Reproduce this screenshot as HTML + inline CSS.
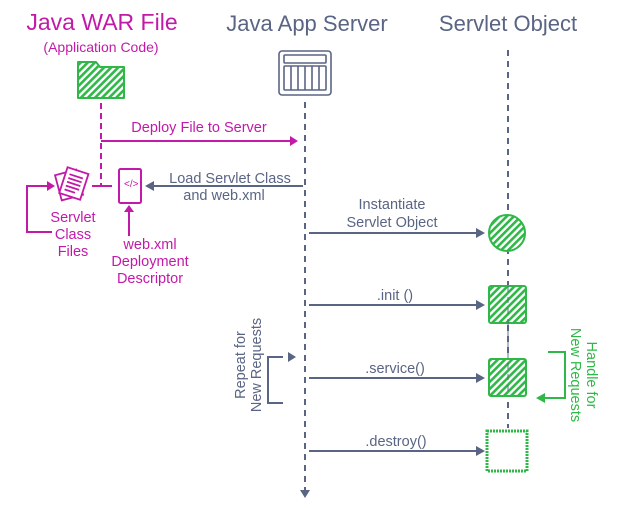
<!DOCTYPE html>
<html><head><style>
html,body{margin:0;padding:0;background:#fff;}
svg{display:block;font-family:"Liberation Sans",sans-serif;}
</style></head><body>
<svg width="618" height="508" viewBox="0 0 618 508" xmlns="http://www.w3.org/2000/svg">
<defs>
<pattern id="h" patternUnits="userSpaceOnUse" width="5" height="5" patternTransform="rotate(45)">
<rect width="5" height="5" fill="#fff"/><rect width="2.6" height="5" fill="#2fb847"/>
</pattern>
</defs>
<!-- titles -->
<text x="102" y="30" font-size="23" fill="#c21aa8" text-anchor="middle">Java WAR File</text>
<text x="101" y="52" font-size="14" fill="#c21aa8" text-anchor="middle">(Application Code)</text>
<text x="307" y="31" font-size="22" fill="#5a6584" text-anchor="middle">Java App Server</text>
<text x="508" y="31" font-size="22" fill="#5a6584" text-anchor="middle">Servlet Object</text>

<!-- folder -->
<path d="M78,62 h18 l4,5 h24 v31 h-46 z" fill="url(#h)" stroke="#2fb847" stroke-width="2" stroke-linejoin="round"/>

<!-- server icon -->
<g stroke="#5a6584" fill="none" stroke-width="1.6">
<rect x="279" y="51" width="52" height="44" rx="3"/>
<rect x="284" y="55" width="42" height="8" rx="1"/>
<rect x="284" y="66" width="42" height="24" rx="1"/>
<line x1="291" y1="66" x2="291" y2="90"/><line x1="298" y1="66" x2="298" y2="90"/><line x1="305" y1="66" x2="305" y2="90"/><line x1="312" y1="66" x2="312" y2="90"/><line x1="319" y1="66" x2="319" y2="90"/>
</g>

<!-- lifelines -->
<line x1="305" y1="102" x2="305" y2="490" stroke="#5a6584" stroke-width="2" stroke-dasharray="6,5"/>
<path d="M300,490 L310,490 L305,498 z" fill="#5a6584"/>
<line x1="508" y1="50" x2="508" y2="428" stroke="#5a6584" stroke-width="2" stroke-dasharray="6,5"/>

<!-- magenta deploy -->
<g stroke="#c21aa8" stroke-width="2" fill="none">
<line x1="101" y1="103" x2="101" y2="186" stroke-dasharray="6,4"/>
<line x1="101" y1="141" x2="292" y2="141"/>
<line x1="92" y1="186" x2="112" y2="186"/>
<path d="M50,186 H27 V232 H52"/>
<line x1="129" y1="236" x2="129" y2="210"/>
<rect x="119" y="169" width="22" height="34" rx="1.5"/>
</g>
<path d="M290,136 L298,141 L290,146 z" fill="#c21aa8"/>
<path d="M47,181 L55,186 L47,191 z" fill="#c21aa8"/>
<path d="M124,212 L129,205 L134,212 z" fill="#c21aa8"/>
<text x="124" y="187" font-size="10" fill="#c21aa8">&lt;/&gt;</text>
<!-- files icon -->
<g stroke="#c21aa8" stroke-width="1.8" fill="#fff">
<rect x="58" y="172" width="22" height="26" transform="rotate(-15 69 185)"/>
<rect x="63" y="170" width="22" height="27" transform="rotate(18 74 183)"/>
<g transform="rotate(18 74 183)"><line x1="67" y1="176" x2="81" y2="176"/><line x1="67" y1="180" x2="81" y2="180"/><line x1="67" y1="184" x2="81" y2="184"/><line x1="67" y1="188" x2="81" y2="188"/><line x1="67" y1="192" x2="78" y2="192"/></g>
</g>
<text x="199" y="132" font-size="14.5" fill="#c21aa8" text-anchor="middle">Deploy File to Server</text>
<g font-size="14.5" fill="#c21aa8" text-anchor="middle">
<text x="73" y="222">Servlet</text><text x="73" y="239">Class</text><text x="73" y="256">Files</text>
<text x="150" y="249">web.xml</text><text x="150" y="266">Deployment</text><text x="150" y="283">Descriptor</text>
</g>

<!-- gray arrows -->
<g stroke="#5a6584" stroke-width="2" fill="none">
<line x1="303" y1="186" x2="150" y2="186"/>
<line x1="309" y1="233" x2="478" y2="233"/>
<line x1="309" y1="305" x2="478" y2="305"/>
<line x1="309" y1="378" x2="478" y2="378"/>
<line x1="309" y1="451" x2="478" y2="451"/>
<path d="M283,357 H268 V403 H283"/>
</g>
<g fill="#5a6584">
<path d="M154,181 L145,186 L154,191 z"/>
<path d="M476,228 L485,233 L476,238 z"/>
<path d="M476,300 L485,305 L476,310 z"/>
<path d="M476,373 L485,378 L476,383 z"/>
<path d="M476,446 L485,451 L476,456 z"/>
<path d="M288,352 L296,357 L288,362 z"/>
</g>
<g font-size="14.5" fill="#5a6584" text-anchor="middle">
<text x="230" y="183">Load Servlet Class</text><text x="224" y="200">and web.xml</text>
<text x="392" y="209">Instantiate</text><text x="392" y="227">Servlet Object</text>
<text x="395" y="300">.init ()</text>
<text x="395" y="373">.service()</text>
<text x="396" y="446">.destroy()</text>
<text transform="translate(245 365) rotate(-90)">Repeat for</text>
<text transform="translate(261 365) rotate(-90)">New Requests</text>
</g>

<!-- servlet objects -->
<circle cx="507" cy="233" r="18" fill="url(#h)" stroke="#2fb847" stroke-width="2"/>
<rect x="489" y="286" width="37" height="37" rx="2" fill="url(#h)" stroke="#2fb847" stroke-width="2"/>
<rect x="489" y="359" width="37" height="37" rx="2" fill="url(#h)" stroke="#2fb847" stroke-width="2"/>
<rect x="487" y="431" width="40" height="40" fill="#fff" stroke="#2fb847" stroke-width="3" stroke-dasharray="2,1"/>
<line x1="508" y1="286" x2="508" y2="396" stroke="#5a6584" stroke-width="1.5" stroke-dasharray="6,5" opacity="0.6"/>

<!-- handle bracket -->
<path d="M548,352 H565 V398 H543" stroke="#2fb847" stroke-width="2" fill="none"/>
<path d="M545,393 L536,398 L545,403 z" fill="#2fb847"/>
<g font-size="14.5" fill="#2fb847" text-anchor="middle">
<text transform="translate(587 375) rotate(90)">Handle for</text>
<text transform="translate(571 375) rotate(90)">New Requests</text>
</g>
</svg>
</body></html>
